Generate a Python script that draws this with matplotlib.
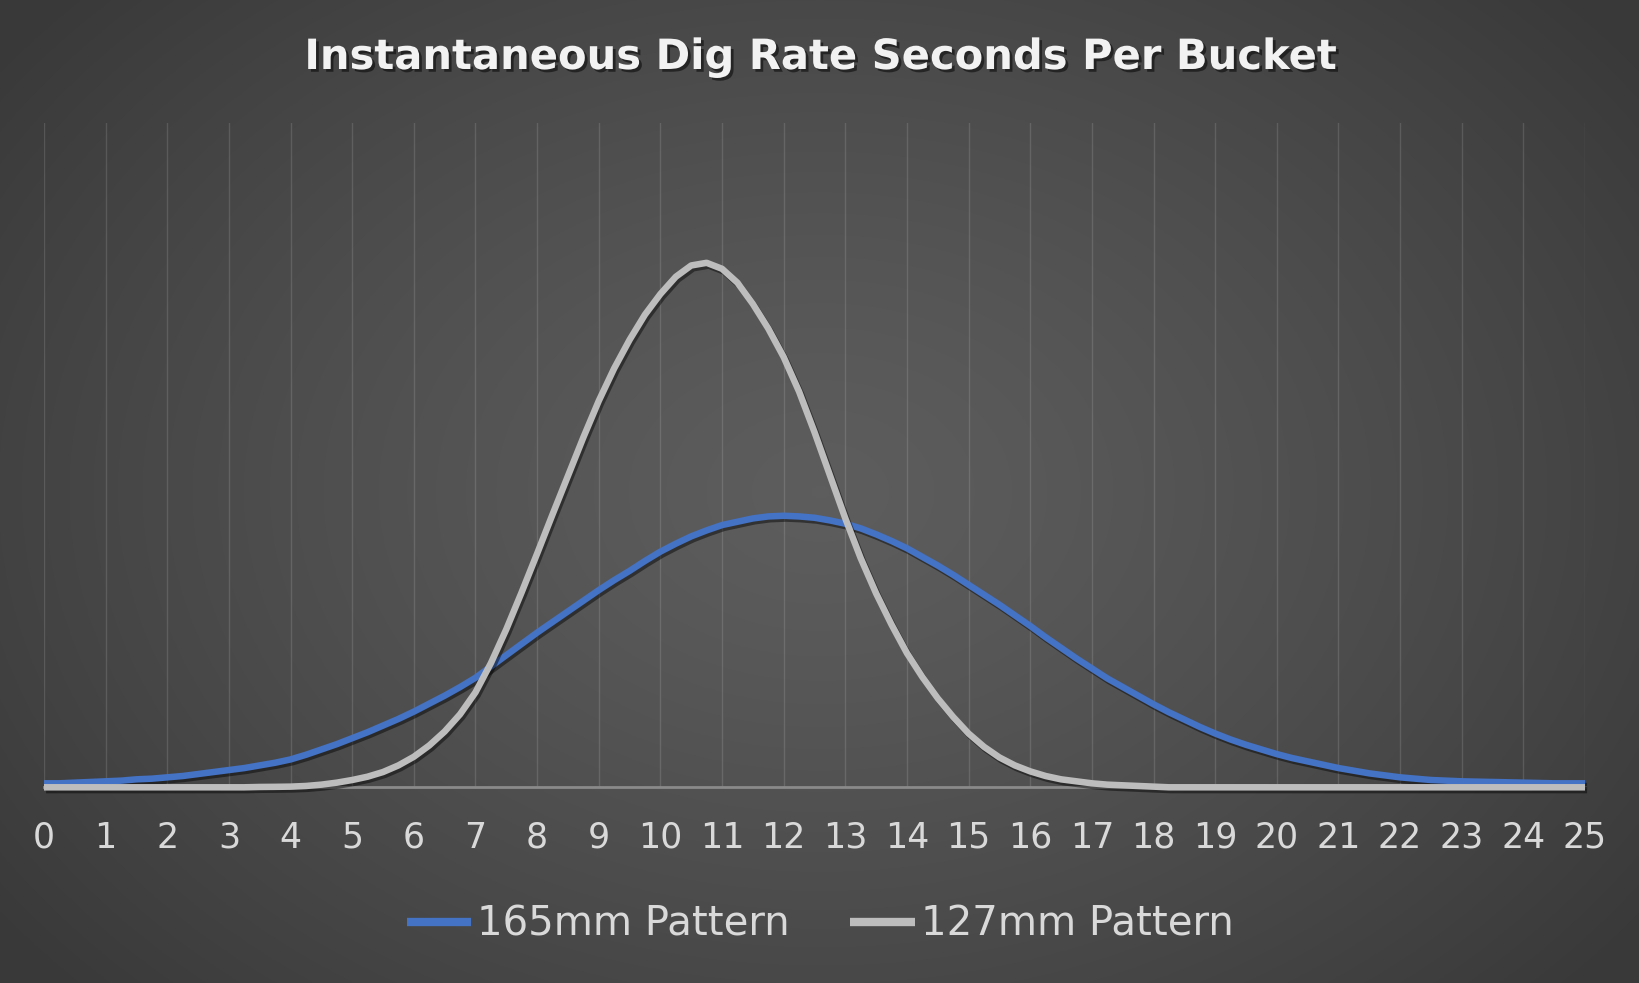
import numpy as np
import matplotlib
matplotlib.use("Agg")
import matplotlib.pyplot as plt
import matplotlib.patheffects as pe

# ---- data (y in fraction of plot height) ----
x_vals = [i * 0.25 for i in range(101)]  # 0, 0.25, ..., 25

pattern_165 = [
    0.006, 0.006, 0.007, 0.008, 0.009, 0.010, 0.012, 0.013, 0.015, 0.017,   # 0 - 2.25
    0.020, 0.023, 0.026, 0.029, 0.033, 0.037, 0.042, 0.049, 0.057, 0.065,   # 2.5 - 4.75
    0.074, 0.083, 0.093, 0.103, 0.114, 0.126, 0.138, 0.151, 0.165, 0.182,   # 5 - 7.25
    0.199, 0.216, 0.233, 0.249, 0.265, 0.281, 0.297, 0.312, 0.326, 0.341,   # 7.5 - 9.75
    0.355, 0.367, 0.378, 0.387, 0.395, 0.400, 0.405, 0.408, 0.409, 0.408,   # 10 - 12.25
    0.406, 0.402, 0.397, 0.390, 0.381, 0.371, 0.360, 0.347, 0.334, 0.320,   # 12.5 - 14.75
    0.305, 0.290, 0.275, 0.259, 0.243, 0.226, 0.210, 0.194, 0.179, 0.164,   # 15 - 17.25
    0.151, 0.138, 0.125, 0.113, 0.102, 0.091, 0.081, 0.072, 0.064, 0.057,   # 17.5 - 19.75
    0.050, 0.044, 0.039, 0.034, 0.029, 0.025, 0.021, 0.018, 0.015, 0.013,   # 20 - 22.25
    0.011, 0.010, 0.009, 0.0085, 0.008, 0.0075, 0.007, 0.0065, 0.006, 0.006,  # 22.5 - 24.75
    0.006,                                                                  # 25
]

pattern_127 = [
    0.0, 0.0, 0.0, 0.0, 0.0, 0.0, 0.0, 0.0, 0.0, 0.0,                       # 0 - 2.25
    0.0, 0.0, 0.0, 0.0, 0.0005, 0.0007, 0.001, 0.002, 0.004, 0.007,         # 2.5 - 4.75
    0.011, 0.016, 0.023, 0.033, 0.046, 0.063, 0.084, 0.110, 0.143, 0.187,   # 5 - 7.25
    0.238, 0.294, 0.352, 0.411, 0.469, 0.527, 0.582, 0.631, 0.674, 0.712,   # 7.5 - 9.75
    0.743, 0.769, 0.786, 0.790, 0.781, 0.760, 0.728, 0.691, 0.648, 0.596,   # 10 - 12.25
    0.535, 0.470, 0.405, 0.345, 0.292, 0.245, 0.202, 0.166, 0.134, 0.106,   # 12.5 - 14.75
    0.081, 0.061, 0.045, 0.033, 0.024, 0.017, 0.012, 0.009, 0.006, 0.004,   # 15 - 17.25
    0.003, 0.002, 0.001, 0.0, 0.0, 0.0, 0.0, 0.0, 0.0, 0.0,                 # 17.5 - 19.75
    0.0, 0.0, 0.0, 0.0, 0.0, 0.0, 0.0, 0.0, 0.0, 0.0,                       # 20 - 22.25
    0.0, 0.0, 0.0, 0.0, 0.0, 0.0, 0.0, 0.0, 0.0, 0.0,                       # 22.5 - 24.75
    0.0,                                                                    # 25
]

tick_values = list(range(0, 26))
series_names = ["165mm Pattern", "127mm Pattern"]
title_text = "Instantaneous Dig Rate Seconds Per Bucket"

BLUE = "#4472C4"
GRAY = "#BDBDBD"
TEXT = "#D9D9D9"

W, H = 1640, 983
fig = plt.figure(figsize=(W / 100, H / 100), dpi=100)

# ---- radial gradient background ----
bg = fig.add_axes([0, 0, 1, 1], zorder=-10)
yy, xx = np.mgrid[0:H, 0:W]
cx, cy = W * 0.5, H * 0.5
r = np.sqrt(((xx - cx) / (W * 0.62)) ** 2 + ((yy - cy) / (H * 0.75)) ** 2)
r = np.clip(r, 0, 1)
c_center, c_edge = 0.365, 0.225
val = c_center + (c_edge - c_center) * r ** 1.3
img = np.dstack([val, val, val])
bg.imshow(img, aspect="auto", extent=[0, 1, 0, 1], origin="upper")
bg.set_axis_off()

# ---- main axes ----
left = 44 / W
right = 1585 / W
bottom = (H - 787.3) / H
top = (H - 123.4) / H
ax = fig.add_axes([left, bottom, right - left, top - bottom])
ax.set_facecolor("none")
ax.set_xlim(0, 25)
ax.set_ylim(0, 1)

for t in tick_values:
    ax.axvline(t, color="white", alpha=0.13, lw=1.0, zorder=1)

ax.axhline(0, color="#8A8A8A", lw=2.0, zorder=2, clip_on=False)

shadow = [pe.SimpleLineShadow(offset=(1.5, -2), shadow_color="black", alpha=0.45),
          pe.Normal()]

ax.plot(x_vals, pattern_165, color=BLUE, lw=4.7, label=series_names[0],
        solid_capstyle="butt", solid_joinstyle="round", zorder=4,
        clip_on=False, path_effects=shadow)
ax.plot(x_vals, pattern_127, color=GRAY, lw=4.7, label=series_names[1],
        solid_capstyle="butt", solid_joinstyle="round", zorder=5,
        clip_on=False, path_effects=shadow)

for s in ax.spines.values():
    s.set_visible(False)
ax.set_yticks([])
ax.set_xticks(tick_values)
ax.set_xticklabels([str(t) for t in tick_values])
ax.tick_params(axis="x", length=0, pad=24, labelsize=25, labelcolor=TEXT)

# ---- title ----
fig.text(0.5, 1 - 57 / H, title_text, ha="center", va="center",
         fontsize=30, fontweight="bold", color="#F2F2F2",
         path_effects=[pe.withSimplePatchShadow(offset=(2, -2), shadow_rgbFace="black", alpha=0.5)])

# ---- legend ----
leg = fig.legend(loc="center", bbox_to_anchor=(0.5, 1 - 925 / H), ncol=2,
                 frameon=False, fontsize=29, handlelength=1.6,
                 handletextpad=0.15, columnspacing=1.5)
for txt in leg.get_texts():
    txt.set_color(TEXT)
for h in leg.legend_handles:
    h.set_linewidth(6)
    h.set_path_effects([])

fig.savefig("out.png", dpi=100)
